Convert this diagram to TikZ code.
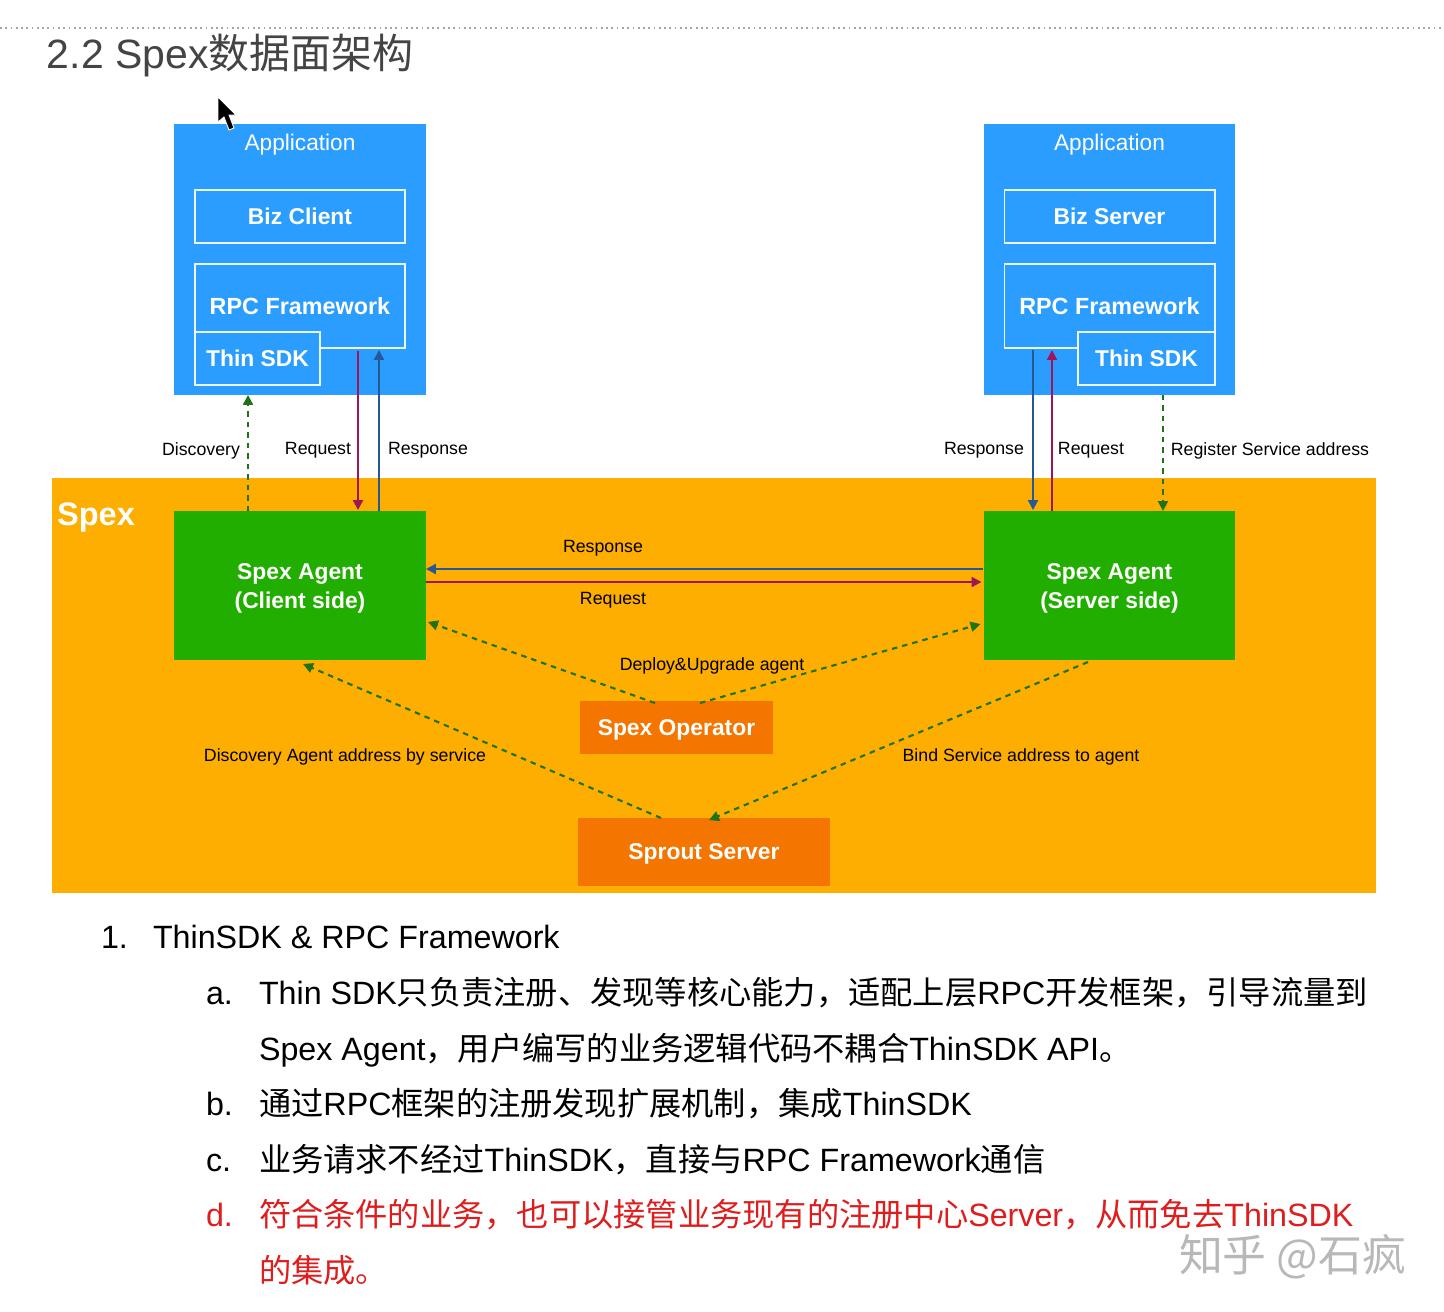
\documentclass[tikz,border=0pt]{standalone}
\usepackage{fontspec}
\setmainfont{Liberation Sans}
\newfontfamily\cjk{Noto Sans CJK SC}
\newcommand{\zh}[1]{{\cjk #1}}
\usetikzlibrary{arrows.meta}
\definecolor{app_blue}{RGB}{42,157,255}
\definecolor{spex_orange}{RGB}{253,174,0}
\definecolor{agent_green}{RGB}{34,174,0}
\definecolor{dark_orange}{RGB}{244,117,0}
\definecolor{resp_blue}{RGB}{38,88,150}
\definecolor{req_purple}{RGB}{160,20,90}
\definecolor{disc_green}{RGB}{30,115,20}
\definecolor{title_gray}{RGB}{68,68,68}
\definecolor{body_red}{RGB}{222,30,30}

\begin{document}
\begin{tikzpicture}[x=0.02cm, y=-0.02cm, >={Stealth[length=2mm,width=2mm,inset=0pt]},
    every node/.style={inner sep=0pt, outer sep=0pt},
    appbox/.style={fill=app_blue, minimum width=5.04cm, minimum height=5.42cm},
    frame/.style={draw=white!90!app_blue, line width=0.6pt, fill=app_blue, text=white, font=\bfseries\fontsize{13}{15}\selectfont, minimum height=1.06cm},
    apptitle/.style={text=white, font=\fontsize{12.9}{15}\selectfont},
    agent/.style={fill=agent_green, text=white, align=center, font=\bfseries\fontsize{13}{16.5}\selectfont, minimum width=5.04cm, minimum height=2.98cm},
    infra/.style={fill=dark_orange, text=white, text height=11pt, text depth=2.2pt, font=\bfseries\fontsize{13}{15}\selectfont},
    lab/.style={text=black, font=\fontsize{10.1}{12}\selectfont},
    body/.style={anchor=base west, text=black, font=\fontsize{18.35}{22}\selectfont},
    resp/.style={->, resp_blue, line width=1.2pt},
    req/.style={->, req_purple, line width=1.2pt},
    disc/.style={->, disc_green, line width=1.2pt, dash pattern=on 1.1mm off 1mm}]
      \useasboundingbox[fill=white] (0,0) rectangle (1444,1312);
      \draw[gray!70, line width=1pt, dotted] (0,28) -- (1444,28);
      \node[anchor=base west, text=title_gray, font=\fontsize{23.3}{27}\selectfont] (title) at (47,68) {2.2 Spex\zh{数据面架构}};

      \node[fill=spex_orange, minimum width=26.48cm, minimum height=8.3cm] (spex) at (714,685.5) {};
      \node[text=white, font=\bfseries\fontsize{18.5}{22}\selectfont] (spexname) at (96,518) {Spex};

      \node[appbox] (appL) at (300,259.5) {};
      \node[apptitle] (titleL) at (300,145) {Application};
      \node[frame, minimum width=4.2cm] (bizL) at (300,216.5) {Biz Client};
      \node[frame, minimum width=4.2cm, minimum height=1.68cm, font=\bfseries\fontsize{13.3}{15}\selectfont] (rpcL) at (300,306) {RPC Framework};
      \node[frame, minimum width=2.5cm] (thinL) at (257.5,358.5) {Thin SDK};

      \node[appbox] (appR) at (1109.5,259.5) {};
      \node[apptitle] (titleR) at (1109.5,145) {Application};
      \node[frame, minimum width=4.22cm] (bizR) at (1109.5,216.5) {Biz Server};
      \node[frame, minimum width=4.22cm, minimum height=1.68cm, font=\bfseries\fontsize{13.3}{15}\selectfont] (rpcR) at (1109.5,306) {RPC Framework};
      \node[frame, minimum width=2.74cm] (thinR) at (1146.5,358.5) {Thin SDK};

      \node[agent] (agentL) at (300,585.5) {\rule{0pt}{12.2pt}Spex Agent\\(Client side)};
      \node[agent] (agentR) at (1109.5,585.5) {\rule{0pt}{12.2pt}Spex Agent\\(Server side)};
      \node[infra, minimum width=3.86cm, minimum height=1.06cm] (operator) at (676.5,727.5) {Spex Operator};
      \node[infra, minimum width=5.04cm, minimum height=1.36cm] (sprout) at (704,852) {Sprout Server};

      \draw[disc] ([xshift=-1.04cm]agentL.north) -- ([xshift=-1.04cm]appL.south);
      \draw[req] ([xshift=1.16cm,yshift=-0.06cm]rpcL.south) -- ([xshift=1.16cm,yshift=0.02cm]agentL.north);
      \draw[resp] ([xshift=1.58cm]agentL.north) -- ([xshift=1.58cm,yshift=-0.04cm]rpcL.south);
      \draw[resp] ([xshift=-1.53cm,yshift=-0.04cm]rpcR.south) -- ([xshift=-1.53cm,yshift=0.02cm]agentR.north);
      \draw[req] ([xshift=-1.15cm]agentR.north) -- ([xshift=-1.15cm,yshift=-0.04cm]rpcR.south);
      \draw[disc] ([xshift=1.07cm]appR.south) -- ([xshift=1.07cm]agentR.north);
      \draw[resp] ([xshift=-0.02cm,yshift=0.33cm]agentR.west) -- ([yshift=0.33cm]agentL.east);
      \draw[req] ([yshift=0.07cm]agentL.east) -- ([xshift=-0.04cm,yshift=0.07cm]agentR.west);
      \draw[disc] ([xshift=-0.43cm,yshift=-0.04cm]operator.north) -- ([xshift=0.04cm,yshift=-0.73cm]agentL.east);
      \draw[disc] ([xshift=0.47cm,yshift=-0.04cm]operator.north) -- ([xshift=-0.06cm,yshift=-0.77cm]agentR.west);
      \draw[disc] ([xshift=-0.86cm]sprout.north) -- ([xshift=0.06cm,yshift=-0.08cm]agentL.south);
      \draw[disc] ([xshift=-0.43cm,yshift=-0.04cm]agentR.south) -- ([xshift=0.1cm,yshift=-0.04cm]sprout.north);

      \node[lab] (discL) at (201,450.5) {Discovery};
      \node[lab] (reqL) at (318,450.5) {Request};
      \node[lab] (respL) at (428,450.5) {Response};
      \node[lab] (respR) at (984,450.5) {Response};
      \node[lab] (reqR) at (1091,450.5) {Request};
      \node[lab] (regR) at (1270,450.5) {Register Service address};
      \node[lab] (respM) at (603,548.5) {Response};
      \node[lab] (reqM) at (613,600.5) {Request};
      \node[lab] (deploy) at (712,665.5) {Deploy\&Upgrade agent};
      \node[lab] (discA) at (345,756.5) {Discovery Agent address by service};
      \node[lab] (bindA) at (1021,756.5) {Bind Service address to agent};

      \node[body] (n1) at (101,948) {1.};
      \node[body] (t1) at (153,948) {ThinSDK \& RPC Framework};
      \node[body] (na) at (206,1004) {a.};
      \node[body] (ta) at (259,1004) {Thin SDK\zh{只负责注册、发现等核心能力，适配上层}RPC\zh{开发框架，引导流量到}};
      \node[body] (tb2) at (259,1060) {Spex Agent\zh{，用户编写的业务逻辑代码不耦合}ThinSDK API\zh{。}};
      \node[body] (nb) at (206,1115) {b.};
      \node[body] (tb) at (259,1115) {\zh{通过}RPC\zh{框架的注册发现扩展机制，集成}ThinSDK};
      \node[body] (nc) at (206,1171) {c.};
      \node[body] (tc) at (259,1171) {\zh{业务请求不经过}ThinSDK\zh{，直接与}RPC Framework\zh{通信}};
      \node[body, text=body_red] (nd) at (206,1226) {d.};
      \node[body, text=body_red] (td) at (259,1226) {\zh{符合条件的业务，也可以接管业务现有的注册中心}Server\zh{，从而免去}ThinSDK};
      \node[body, text=body_red] (td2) at (259,1282) {\zh{的集成。}};
      \node[anchor=base west, text=gray!65, opacity=0.85, font=\fontsize{25}{28}\selectfont] (mark) at (1179,1271) {\zh{知乎 @石疯}};

      \fill[black, draw=white, line width=0.5pt] (218,97) -- (218,122) -- (224,117) -- (229,130) -- (234,128) -- (229,115) -- (236,115) -- cycle;
    \end{tikzpicture}
\end{document}
